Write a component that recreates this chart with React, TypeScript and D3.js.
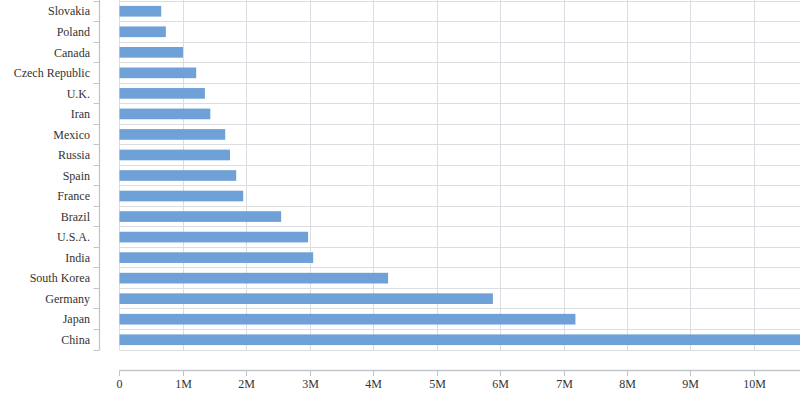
import React from 'react';
import * as d3 from 'd3';

const categories = [
  'Slovakia', 'Poland', 'Canada', 'Czech Republic', 'U.K.', 'Iran', 'Mexico', 'Russia',
  'Spain', 'France', 'Brazil', 'U.S.A.', 'India', 'South Korea', 'Germany', 'Japan', 'China',
];
const production = [
  657000, 730000, 1000000, 1208000, 1345000, 1430000, 1665000, 1740000,
  1838000, 1948000, 2546000, 2970000, 3050000, 4230000, 5880000, 7180000, 14480000,
];

const width = 800;
const height = 400;
const axisX = 99.5;
const plotLeft = 119.5;
const plotTop = 1;
const plotBottom = 350;
const xAxisY = 370.5;

const gridColor = '#dcdde2';
const axisColor = '#c3c5cc';
const barColor = '#6fa1d8';
const font = '"Liberation Serif", "Times New Roman", serif';

const crisp = (v: number) => Math.round(v - 0.5) + 0.5;

const App: React.FC = () => {
  // the plot runs past the right edge of the picture, so China's bar is cut off
  const x = d3.scaleLinear().domain([0, 15000000]).range([plotLeft, plotLeft + 63.5 * 15]);
  const y = d3.scaleBand<string>()
    .domain(categories)
    .range([plotTop, plotBottom])
    .paddingInner(0.48)
    .paddingOuter(0.24);

  // only the ticks that land inside the visible area
  const ticks = x.ticks(15).filter(t => x(t) < width - 20);
  const step = y.step();
  const bandEdges = d3.range(categories.length + 1).map(i => plotTop + i * step);
  const fmt = (v: number) => (v === 0 ? '0' : `${v / 1000000}M`);

  return (
    <svg
      width={width}
      height={height}
      style={{ position: 'absolute', left: 0, top: 0, background: '#fff' }}
    >
      <g>
        {ticks.map(t => (
          <line key={'v' + t} x1={crisp(x(t))} x2={crisp(x(t))} y1={0} y2={plotBottom}
            stroke={gridColor} strokeWidth={1} />
        ))}
        {bandEdges.map((e, i) => (
          <line key={'h' + i} x1={plotLeft} x2={width} y1={crisp(e)} y2={crisp(e)}
            stroke={gridColor} strokeWidth={1} />
        ))}
      </g>

      <g>
        {categories.map((c, i) => (
          <rect key={c} x={x(0)} y={y(c)} width={x(production[i]) - x(0)} height={y.bandwidth()}
            fill={barColor} />
        ))}
      </g>

      <g>
        <line x1={axisX} x2={axisX} y1={0} y2={plotBottom} stroke={axisColor} strokeWidth={1.3} />
        {bandEdges.map((e, i) => (
          <line key={'t' + i} x1={axisX - 6} x2={axisX} y1={crisp(e)} y2={crisp(e)}
            stroke={axisColor} strokeWidth={1} />
        ))}
        {categories.map(c => (
          <text key={'l' + c} x={90} y={(y(c) ?? 0) + y.bandwidth() / 2} dy="0.35em"
            textAnchor="end" fontFamily={font} fontSize={12} fill="#333">
            {c}
          </text>
        ))}
      </g>

      <g>
        <line x1={plotLeft} x2={width} y1={xAxisY} y2={xAxisY} stroke={axisColor} strokeWidth={1.3} />
        {ticks.map(t => (
          <g key={'x' + t}>
            <line x1={crisp(x(t))} x2={crisp(x(t))} y1={xAxisY} y2={xAxisY + 5.5}
              stroke={axisColor} strokeWidth={1} />
            <text x={crisp(x(t))} y={387.5} textAnchor="middle" fontFamily={font}
              fontSize={12} fill="#333">
              {fmt(t)}
            </text>
          </g>
        ))}
      </g>
    </svg>
  );
};

export default App;
